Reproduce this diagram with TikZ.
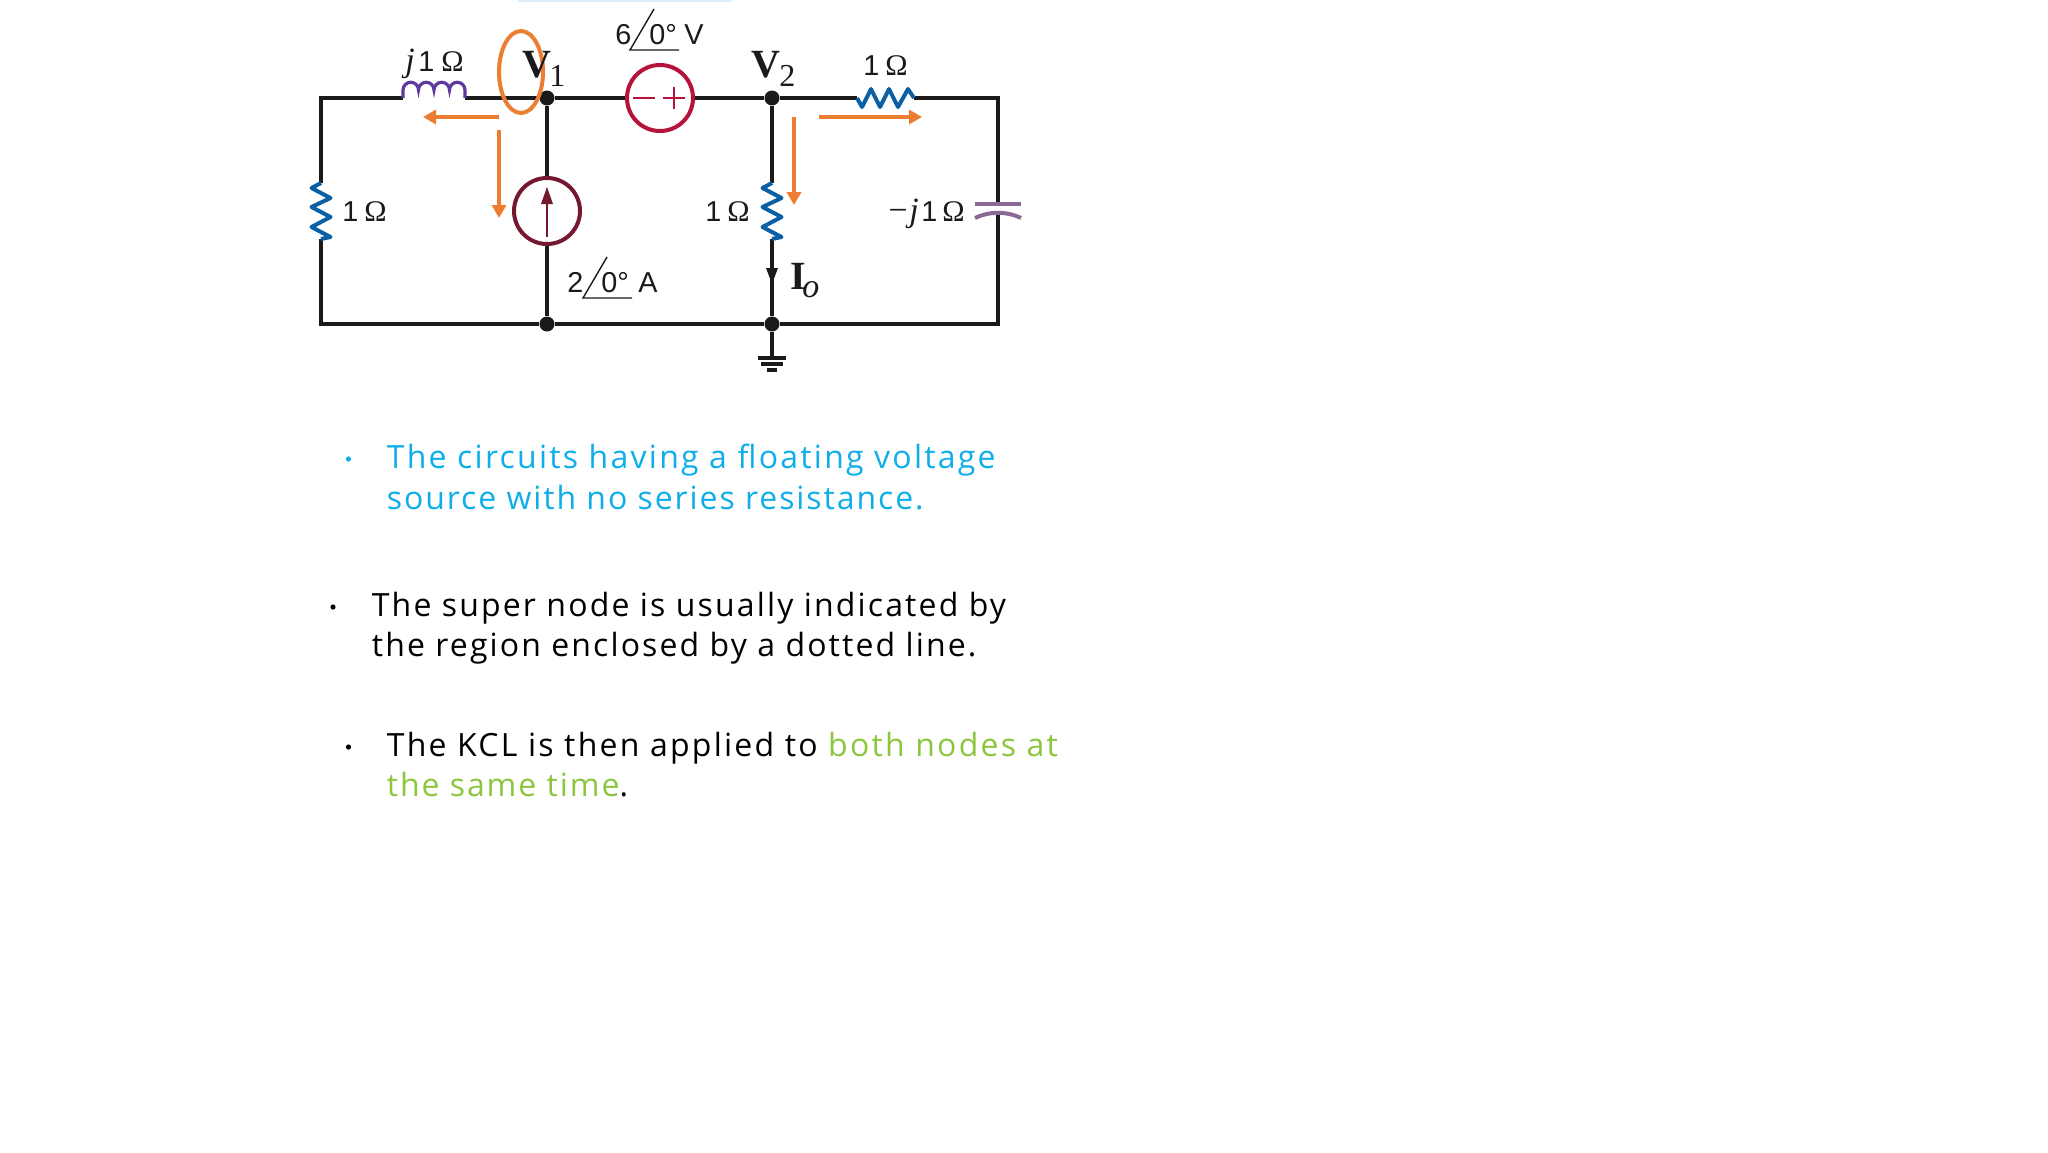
\documentclass[tikz,border=0pt]{standalone}
\usepackage{fontspec}
\setmainfont[LetterSpace=6]{Open Sans}
\newfontfamily\armfont{Liberation Sans}
\newfontfamily\rmfnt{Liberation Serif}
\usetikzlibrary{arrows.meta}
\definecolor{wireblk}{HTML}{1A1A1A}
\definecolor{flow}{HTML}{ED7D31}
\definecolor{resblue}{HTML}{0B5FA5}
\definecolor{coil}{HTML}{5B3A9B}
\definecolor{srcred}{HTML}{B5123C}
\definecolor{srcdark}{HTML}{74192F}
\definecolor{capcol}{HTML}{8A6A94}
\definecolor{skyline}{HTML}{0FAEE8}
\definecolor{leaf}{HTML}{8CC63F}
\definecolor{topbar}{HTML}{DCEEFB}
\tikzset{
  wire/.style={line width=2.2pt,color=wireblk,line join=miter},
  flowarrow/.style={line width=2pt,color=flow,-{Triangle[length=6.5pt,width=7pt]}},
  zigzag/.style={line width=2pt,color=resblue,line join=round},
  joint/.style={circle,fill=wireblk,inner sep=0,minimum size=7.5pt},
  srcring/.style={circle,draw,line width=2pt,inner sep=0,minimum size=33pt},
  lbl/.style={inner sep=0,anchor=base west,font=\armfont\fontsize{14.4}{16}\selectfont,color=wireblk},
  ohm/.style={lbl,font=\rmfnt\fontsize{15}{16}\selectfont},
  itlbl/.style={lbl,font=\rmfnt\itshape\fontsize{17}{18}\selectfont},
  bigv/.style={lbl,font=\rmfnt\bfseries\fontsize{20}{22}\selectfont},
  subs/.style={lbl,font=\rmfnt\fontsize{16}{18}\selectfont},
  para/.style={inner sep=0,anchor=base west,font=\fontsize{16}{18}\selectfont},
  dotmark/.style={circle,inner sep=0,minimum size=2.6pt}
}
\begin{document}
\begin{tikzpicture}[x=0.5pt,y=-0.5pt]
\useasboundingbox (0,0) rectangle (2048,1152);
\fill [topbar] (518,0) rectangle (732,1.5);
% corners and joints
\coordinate (tl) at (321,98);
\coordinate (bl) at (321,324);
\coordinate (tr) at (998,98);
\coordinate (br) at (998,324);
\coordinate (indl) at (403,98);
\coordinate (indr) at (465,98);
\coordinate (rla) at (321,183);
\coordinate (rlb) at (321,239);
\coordinate (rma) at (772,183);
\coordinate (rmb) at (772,239);
\coordinate (rta) at (857,98);
\coordinate (rtb) at (914,98);
\coordinate (capt) at (998,204);
\coordinate (capb) at (998,213);
\coordinate (gndtop) at (772,358);
\node [joint] (vone) at (547,98) {};
\node [joint] (vtwo) at (772,98) {};
\node [joint] (bone) at (547,324) {};
\node [joint] (btwo) at (772,324) {};
\node [srcring,draw=srcred] (vsrc) at (660,98) {};
\node [srcring,draw=srcdark] (isrc) at (547,211) {};
% wires
\draw [wire] (rla) -- (tl) -- (indl);
\draw [wire] (indr) -- (vone) -- (vsrc);
\draw [wire] (vsrc) -- (vtwo) -- (rta);
\draw [wire] (rtb) -- (tr) -- (capt);
\draw [wire] (capb) -- (br) -- (btwo) -- (bone) -- (bl) -- (rlb);
\draw [wire] (vone) -- (isrc);
\draw [wire] (isrc) -- (bone);
\draw [wire] (vtwo) -- (rma);
\draw [wire] (rmb) -- (btwo);
\draw [wire] (btwo) -- (gndtop);
% ground
\draw [line width=1.6pt,color=wireblk] (758,358) -- (786,358);
\draw [line width=1.6pt,color=wireblk] (761,364) -- (783,364);
\draw [line width=1.6pt,color=wireblk] (767,370) -- (777,370);
% resistors
\draw [zigzag] (rla) -- (311.5,188) -- (330.5,198) -- (311.5,207) -- (330.5,217) -- (311.5,227) -- (330.5,237) -- (rlb);
\draw [zigzag] (rma) -- (762.5,188) -- (781.5,198) -- (762.5,207) -- (781.5,217) -- (762.5,227) -- (781.5,237) -- (rmb);
\draw [zigzag] (rta) -- (862,107) -- (871,89) -- (880,107) -- (889,89) -- (898,107) -- (908,89) -- (rtb);
% inductor
\draw [line width=1.6pt,color=coil] (indl) -- (403,90) arc [start angle=180,end angle=360,radius=7.75] arc [start angle=180,end angle=360,radius=7.75] arc [start angle=180,end angle=360,radius=7.75] arc [start angle=180,end angle=360,radius=7.75] -- (indr);
% capacitor
\draw [line width=2pt,color=capcol] (975,204) -- (1021,204);
\draw [line width=2pt,color=capcol] (975,218) .. controls (990,211) and (1006,211) .. (1021,218);
% sources
\draw [line width=1.1pt,color=srcred] (633,98) -- (655,98);
\draw [line width=1.1pt,color=srcred] (663,98) -- (685,98);
\draw [line width=1.1pt,color=srcred] (674,87) -- (674,109);
\draw [line width=1.4pt,color=srcdark] (547,200) -- (547,237);
\fill [srcdark] (547,187) -- (553,204) -- (541,204) -- cycle;
% current marker
\fill [wireblk] (772,284) -- (766,268) -- (778,268) -- cycle;
% flows
\coordinate (fla) at (499,117);
\coordinate (flb) at (423,117);
\coordinate (flc) at (499,130);
\coordinate (fld) at (499,218);
\coordinate (fle) at (794,117);
\coordinate (flf) at (794,205);
\coordinate (flg) at (819,117);
\coordinate (flh) at (922,117);
\draw [flowarrow] (fla) -- (flb);
\draw [flowarrow] (flc) -- (fld);
\draw [flowarrow] (fle) -- (flf);
\draw [flowarrow] (flg) -- (flh);
\draw [line width=2pt,color=flow] (521,72) ellipse (22 and 41);
% labels
\node [itlbl] (lj) at (405,71) {j};
\node [lbl] (ljn) at (418,71) {1};
\node [ohm] (ljo) at (441,71) {Ω};
\node [lbl] (lra) at (342,221) {1};
\node [ohm] (lrao) at (364,221) {Ω};
\node [lbl] (lrm) at (705,221) {1};
\node [ohm] (lrmo) at (727,221) {Ω};
\node [lbl] (lrt) at (863,75) {1};
\node [ohm] (lrto) at (885,75) {Ω};
\node [itlbl] (lcj) at (886,221) {−j};
\node [lbl] (lcn) at (921,221) {1};
\node [ohm] (lco) at (942,221) {Ω};
\node [bigv] (lvone) at (522,77) {V};
\node [subs] (lvonen) at (549,86) {1};
\node [bigv] (lvtwo) at (751,77) {V};
\node [subs] (lvtwon) at (779,86) {2};
\node [lbl] (lsix) at (615,44) {6};
\node [lbl] (lsixz) at (649,44) {0°};
\node [lbl] (lsixv) at (684,44) {V};
\draw [line width=0.7pt,color=wireblk] (654,9) -- (630,50) -- (679,50);
\node [lbl] (ltwo) at (567,292) {2};
\node [lbl] (ltwoz) at (601,292) {0°};
\node [lbl] (ltwoa) at (638,292) {A};
\draw [line width=0.7pt,color=wireblk] (607,257) -- (583,298) -- (632,298);
\node [bigv] (lio) at (790,289) {I};
\node [subs,font=\rmfnt\itshape\fontsize{17}{18}\selectfont] (lion) at (802,297) {o};
% text
\node [dotmark,fill=skyline] (ba) at (348.5,459) {};
\node [para,color=skyline] (pa) at (386.5,468) {\addfontfeature{LetterSpace=7}The circuits having a floating voltage};
\node [para,color=skyline] (pb) at (386.5,509) {source with no series resistance.};
\node [dotmark,fill=black] (bb) at (333,607) {};
\node [para,color=black] (pc) at (371.5,616) {\addfontfeature{LetterSpace=6.7}The super node is usually indicated by};
\node [para,color=black] (pd) at (371.5,656) {\addfontfeature{LetterSpace=6.6}the region enclosed by a dotted line.};
\node [dotmark,fill=black] (bc) at (348.5,747) {};
\node [para,color=black] (pe) at (386.5,756) {\addfontfeature{LetterSpace=7}The KCL is then applied to \textcolor{leaf}{both nodes at}};
\node [para,color=leaf] (pf) at (386.5,796) {the same time\textcolor{black}{.}};
\end{tikzpicture}
\end{document}
